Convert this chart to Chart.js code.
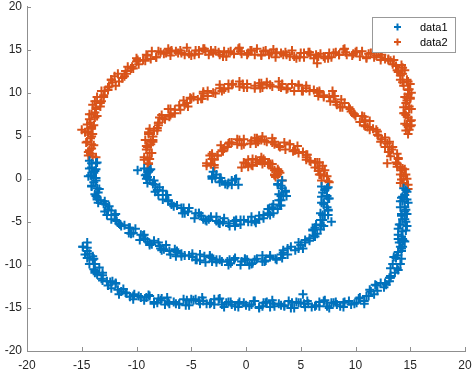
<!DOCTYPE html>
<html>
<head>
<meta charset="utf-8">
<script src="https://cdn.jsdelivr.net/npm/chart.js@4/dist/chart.umd.min.js"></script>
<style>
  html, body { margin: 0; padding: 0; background: #fff; }
  #wrap { width: 474px; height: 373px; }
</style>
</head>
<body>
<div id="wrap"><canvas id="grafico" width="474" height="373"></canvas></div>
<script>
/* data */
var seriesNames = ['data1', 'data2'];
var xTicks = [-20, -15, -10, -5, 0, 5, 10, 15, 20];
var yTicks = [-20, -15, -10, -5, 0, 5, 10, 15, 20];

// data1 (blue), first pass
var data1a = [
  [3.3,-0.2],[2.9,-0.7],[3.2,-0.8],[3.6,-1.5],[3.7,-2.0],[3.0,-1.8],[3.1,-3.1],[3.2,-2.5],
  [2.4,-3.3],[2.9,-3.5],[2.2,-4.2],[2.0,-3.5],[1.6,-4.2],[1.2,-4.7],[0.5,-4.4],[0.9,-5.1],
  [0.2,-5.0],[-0.5,-4.8],[-1.0,-5.5],[-0.9,-4.9],[-2.1,-5.0],[-1.6,-5.2],[-2.5,-5.1],[-2.7,-4.4],
  [-3.2,-4.4],[-3.6,-4.9],[-4.3,-4.0],[-3.9,-4.7],[-4.6,-4.0],[-5.3,-3.8],[-5.8,-4.0],[-5.7,-3.4],
  [-6.8,-2.9],[-6.3,-3.1],[-7.1,-2.6],[-7.3,-1.9],[-7.6,-1.4],[-8.0,-1.9],[-8.5,-0.6],[-8.1,-1.3],
  [-8.4,-0.2],[-9.1,0.0],[-9.0,0.2],[-8.9,0.8],[-9.3,1.2],[-8.8,1.0],[-9.9,1.0],
  [-0.7,-0.7],[-0.9,0.0],[-1.3,-0.2],[-1.7,-0.7],[-2.3,0.1],[-1.9,-0.6],[-2.4,0.1],[-3.1,0.3],
  [-3.1,0.2],[-3.0,0.8],
  [6.9,-0.9],[7.4,-1.1],[7.4,-2.0],[7.2,-1.3],[7.5,-2.3],[7.1,-2.8],[7.1,-3.0],[7.5,-3.7],
  [7.5,-4.2],[6.8,-4.0],[6.9,-5.4],[7.0,-4.8],[7.8,-5.0],[6.3,-5.7],[6.8,-5.9],[6.3,-6.7],[6.1,-6.0],
  [5.8,-6.9],[5.4,-7.4],[4.8,-7.4],[5.2,-8.1],[4.5,-8.3],[3.8,-8.1],[3.3,-9.2],[3.4,-8.6],
  [2.2,-9.1],[2.7,-9.3],[1.7,-9.6],[1.5,-8.9],[1.0,-9.3],[0.6,-9.8],[-0.1,-9.3],[0.3,-10.0],
  [-0.4,-9.6],[-1.1,-9.4],[-1.6,-10.0],[-1.5,-9.4],[-2.7,-9.4],[-2.2,-9.6],[-3.1,-9.6],[-3.3,-8.9],
  [-3.8,-9.0],[-4.2,-9.5],[-4.9,-8.7],[-4.5,-9.4],[-5.2,-8.9],[-5.9,-8.7],[-6.4,-9.0],[-6.3,-8.4],
  [-7.5,-8.2],[-7.0,-8.4],[-7.8,-8.1],[-8.0,-7.4],[-8.4,-7.2],[-8.8,-7.7],[-9.4,-6.6],[-9.0,-7.3],
  [-9.6,-6.5],[-10.3,-6.3],[-10.7,-6.3],[-10.6,-5.7],[-11.6,-5.2],[-11.1,-5.4],[-11.8,-4.9],[-12.0,-4.2],
  [-12.3,-3.7],[-12.7,-4.2],[-13.0,-2.9],[-12.6,-3.6],[-12.9,-2.6],[-13.6,-2.4],[-13.6,-2.2],[-13.5,-1.6],
  [-14.1,-0.9],[-13.6,-1.1],[-13.9,-0.4],[-14.1,0.3],[-13.8,0.9],[-14.2,0.4],[-14.1,1.8],[-13.7,1.1],
  [-13.6,1.9],[-14.3,2.1],
  [14.4,-1.1],[14.5,-1.9],[14.6,-1.3],[14.2,-2.2],[14.7,-2.4],[14.5,-3.3],[14.3,-2.6],[14.6,-3.6],[14.2,-4.1],
  [14.2,-4.3],[14.6,-5.0],[14.7,-5.5],[14.0,-5.3],[14.2,-6.7],[14.3,-6.1],[13.9,-7.0],[14.4,-7.2],
  [14.2,-8.1],[14.0,-7.4],[14.2,-8.4],[13.8,-8.9],[13.7,-9.2],[14.1,-9.9],[13.9,-10.6],[13.2,-10.4],
  [13.1,-11.9],[13.2,-11.3],[12.3,-12.1],[12.8,-12.3],[12.0,-13.0],[11.8,-12.3],[11.4,-13.1],[11.0,-13.6],
  [10.4,-13.8],[10.8,-14.5],[10.1,-14.4],[9.4,-14.2],[8.9,-14.9],[9.0,-14.3],[7.8,-14.4],[8.3,-14.6],
  [7.4,-14.8],[7.2,-14.1],[6.7,-14.3],[6.3,-14.8],[5.6,-14.2],[6.0,-14.9],[5.3,-14.5],[4.6,-14.3],
  [5.2,-13.4],[4.1,-15.0],[4.2,-14.4],[3.0,-14.5],[3.5,-14.7],[2.6,-14.8],[2.4,-14.1],[1.9,-14.3],[1.5,-14.8],
  [0.8,-14.2],[1.2,-14.9],[0.5,-14.6],[-0.2,-14.4],[-0.7,-14.9],[-0.6,-14.3],[-1.8,-14.4],[-1.3,-14.6],
  [-2.2,-14.6],[-2.4,-13.9],[-2.9,-14.0],[-3.3,-14.5],[-4.0,-13.8],[-3.6,-14.5],[-4.3,-14.2],[-5.0,-14.0],
  [-5.5,-14.7],[-5.4,-14.1],[-6.6,-14.3],[-6.1,-14.5],[-7.0,-14.5],[-7.2,-13.8],[-7.7,-13.9],[-8.1,-14.4],
  [-8.8,-13.6],[-8.4,-14.3],[-9.1,-13.8],[-9.8,-13.6],[-10.3,-14.0],[-10.2,-13.4],[-11.4,-13.1],[-10.9,-13.3],
  [-11.7,-12.9],[-11.9,-12.2],[-12.2,-11.9],[-12.6,-12.4],[-13.1,-11.2],[-12.7,-11.9],[-13.1,-10.9],[-13.8,-10.7],
  [-13.9,-10.5],[-13.8,-9.9],[-14.5,-9.2],[-14.0,-9.4],[-14.3,-8.7],[-14.5,-8.0],[-14.5,-7.4],[-14.9,-7.9]
];

// data1 (blue), points between the first ones
var data1b = [
  [3.3,-1.1],[2.9,-0.6],[3.6,-1.4],[3.2,-2.0],[3.0,-2.5],[3.4,-2.0],[3.2,-3.1],[2.5,-3.0],
  [2.5,-4.0],[2.1,-3.5],[2.0,-4.0],[1.6,-4.6],[0.8,-4.9],[1.2,-4.3],[0.5,-5.0],[-0.2,-4.8],
  [-0.5,-5.3],[-0.9,-4.8],[-1.1,-4.9],[-1.5,-5.5],[-2.4,-5.2],[-2.0,-4.6],[-2.7,-4.9],[-3.4,-4.7],
  [-3.7,-4.8],[-4.1,-4.3],[-4.3,-4.0],[-4.7,-4.6],[-5.6,-4.0],[-5.2,-3.4],[-5.9,-3.4],[-6.6,-3.2],
  [-6.8,-3.0],[-7.1,-2.5],[-7.2,-1.9],[-7.6,-2.4],[-8.3,-1.5],[-7.9,-1.0],[-8.3,-0.7],[-9.0,-0.5],
  [-8.8,-0.1],[-9.2,0.4],[-8.7,1.1],[-9.1,0.5],
  [-1.3,-0.7],[-1.0,-0.1],[-1.6,-0.5],[-2.2,-0.3],[-2.4,-0.4],[-2.8,0.1],[-2.7,0.5],[-3.1,0.0],
  [7.0,-1.6],[7.5,-1.0],[7.6,-2.3],[6.9,-2.1],[7.4,-3.3],[6.9,-2.8],[7.5,-3.6],[7.0,-4.2],
  [6.8,-4.8],[7.2,-4.2],[7.1,-5.5],[6.4,-5.3],[6.5,-6.4],[6.1,-5.9],[6.2,-6.6],[5.8,-7.2],
  [5.0,-7.7],[5.4,-7.1],[4.8,-8.1],[4.1,-7.9],[3.8,-8.8],[3.4,-8.3],[3.2,-8.8],[2.8,-9.4],
  [1.8,-9.5],[2.2,-8.9],[1.5,-9.6],[0.8,-9.4],[0.5,-9.9],[0.1,-9.4],[-0.1,-9.4],[-0.5,-10.0],
  [-1.4,-9.8],[-1.0,-9.2],[-1.7,-9.6],[-2.4,-9.4],[-2.7,-9.7],[-3.1,-9.2],[-3.3,-9.1],[-3.7,-9.7],
  [-4.6,-9.4],[-4.2,-8.8],[-4.9,-9.1],[-5.6,-8.9],[-5.9,-9.0],[-6.3,-8.5],[-6.5,-8.2],[-6.9,-8.8],
  [-7.7,-8.3],[-7.3,-7.7],[-7.9,-7.8],[-8.6,-7.6],[-8.8,-7.5],[-9.2,-7.0],[-9.3,-6.5],[-9.7,-7.1],
  [-10.5,-6.4],[-10.1,-5.8],[-10.7,-5.7],[-11.4,-5.5],[-11.5,-5.3],[-11.9,-4.8],[-11.9,-4.1],[-12.3,-4.7],
  [-12.9,-3.8],[-12.5,-3.2],[-12.8,-3.0],[-13.5,-2.8],[-13.3,-2.5],[-13.7,-2.0],[-13.4,-1.2],[-13.8,-1.8],
  [-14.1,-0.8],[-13.7,-0.2],[-13.7,0.1],[-14.4,0.3],[-13.9,0.7],[-14.3,1.2],[-13.7,1.8],[-14.1,1.3],
  [14.3,-2.1],[14.7,-1.5],[14.8,-2.8],[14.1,-2.6],[14.5,-3.8],[14.1,-3.3],[14.7,-4.1],[14.3,-4.7],
  [14.1,-5.3],[14.5,-4.7],[14.6,-6.0],[13.9,-5.8],[14.3,-7.0],[13.9,-6.5],[14.5,-7.3],[14.1,-7.9],
  [13.9,-8.5],[14.3,-7.9],[14.2,-9.3],[13.5,-9.1],[13.8,-10.4],[13.4,-9.9],[13.6,-10.9],[13.2,-11.5],
  [12.7,-12.1],[13.1,-11.5],[12.6,-12.6],[11.9,-12.4],[11.7,-13.4],[11.3,-12.9],[11.2,-13.6],[10.8,-14.2],
  [9.9,-14.5],[10.3,-13.9],[9.6,-14.6],[8.9,-14.4],[8.6,-14.8],[8.2,-14.3],[8.0,-14.4],[7.6,-15.0],
  [6.7,-14.8],[7.1,-14.2],[6.4,-14.7],[5.7,-14.5],[5.4,-14.9],[5.0,-14.4],[4.8,-14.4],[4.4,-15.0],
  [3.5,-14.8],[3.9,-14.2],[3.2,-14.7],[2.5,-14.5],[2.2,-14.9],[1.8,-14.4],[1.6,-14.4],[1.2,-15.0],
  [0.3,-14.8],[0.7,-14.2],[0.0,-14.7],[-0.7,-14.5],[-1.0,-14.8],[-1.4,-14.3],[-1.6,-14.3],[-2.0,-14.9],
  [-2.9,-14.6],[-2.5,-14.0],[-3.2,-14.4],[-3.9,-14.2],[-4.2,-14.5],[-4.6,-14.0],[-4.8,-14.1],[-5.2,-14.7],
  [-6.1,-14.6],[-5.7,-14.0],[-6.4,-14.5],[-7.1,-14.3],[-7.4,-14.6],[-7.8,-14.1],[-8.0,-13.9],[-8.4,-14.5],
  [-9.3,-14.1],[-8.9,-13.5],[-9.6,-13.8],[-10.3,-13.6],[-10.6,-13.7],[-11.0,-13.2],[-11.2,-12.8],[-11.6,-13.4],
  [-12.3,-12.7],[-11.9,-12.1],[-12.4,-12.0],[-13.1,-11.8],[-13.2,-11.6],[-13.6,-11.1],[-13.4,-10.3],[-13.8,-10.9],
  [-14.3,-9.9],[-13.9,-9.3],[-14.0,-9.0],[-14.7,-8.8],[-14.5,-8.4],[-14.9,-7.9]
];

// data2 (orange), first pass
var data2a = [
  [0.0,1.8],[-0.4,1.3],[0.2,2.2],[0.6,1.5],[1.3,2.1],[0.6,2.3],[1.5,1.7],[1.6,2.3],
  [1.7,1.9],[2.2,1.7],[2.6,1.0],[2.4,1.7],[3.0,0.9],[2.6,0.4],[2.9,0.5],[3.3,-0.2],
  [-2.9,1.3],[-3.6,1.5],[-3.2,1.7],[-3.1,2.3],[-3.1,2.9],[-2.6,2.7],[-2.1,3.2],[-2.3,3.9],
  [-1.3,4.2],[-1.7,3.7],[-0.8,4.6],[-0.4,3.9],[0.5,4.4],[-0.2,4.6],[0.9,4.1],[1.0,4.7],
  [1.4,4.5],[1.9,4.3],[2.6,4.0],[2.4,4.7],[3.5,4.2],[3.1,3.7],[4.0,4.0],[4.4,3.3],
  [5.2,3.1],[4.5,3.3],[5.5,2.2],[5.6,2.8],[5.8,2.1],[6.3,1.9],[6.7,1.2],[6.5,1.9],
  [7.2,1.0],[6.8,0.5],[7.1,0.4],[7.5,-0.3],[7.6,-0.4],[6.9,-0.2],
  [-9.0,1.2],[-8.9,1.8],[-9.3,2.5],[-8.8,2.3],[-8.8,3.0],[-9.0,3.7],[-8.7,4.3],[-9.1,3.8],
  [-8.9,5.2],[-8.5,4.5],[-8.1,5.6],[-8.8,5.8],[-8.1,5.9],[-8.0,6.5],[-7.9,7.1],[-7.4,6.9],
  [-6.9,7.4],[-7.1,8.1],[-6.1,8.5],[-6.5,8.0],[-5.7,9.1],[-5.3,8.4],[-4.4,9.2],[-5.1,9.4],
  [-4.0,9.3],[-3.9,9.9],[-3.5,10.2],[-3.0,10.0],[-2.2,10.2],[-2.4,10.9],[-1.2,11.0],[-1.6,10.5],
  [-0.6,11.3],[-0.2,10.6],[0.8,10.8],[0.1,11.0],[1.3,10.5],[1.4,11.1],[1.9,10.9],[2.4,10.7],
  [3.2,10.6],[3.0,11.3],[4.2,11.0],[3.8,10.5],[4.8,10.9],[5.2,10.2],[6.2,10.3],[5.5,10.5],
  [6.6,9.6],[6.7,10.2],[7.1,9.7],[7.6,9.5],[8.2,8.9],[8.0,9.6],[7.9,10.2],[9.0,8.8],[8.6,8.3],
  [9.4,8.3],[9.8,7.6],[10.6,7.3],[9.9,7.5],[10.8,6.2],[10.9,6.8],[11.1,6.0],[11.6,5.8],
  [12.1,5.0],[11.9,5.7],[12.7,4.8],[12.3,4.3],[12.9,4.1],[13.3,3.4],[13.8,2.9],[13.1,3.1],
  [13.8,1.7],[13.9,2.3],[12.9,1.8],[13.8,1.4],[14.3,1.2],[14.4,0.3],[14.2,1.0],[14.7,0.0],[14.3,-0.5],
  [14.4,-0.5],[14.8,-1.2],
  [-13.7,2.5],[-14.4,2.7],[-14.2,2.9],[-14.1,3.5],[-14.6,4.2],[-14.1,4.0],[-14.2,4.7],[-14.4,5.4],
  [-14.1,6.0],[-14.5,5.5],[-15.0,5.7],[-14.3,6.9],[-13.9,6.2],[-13.6,7.3],[-14.3,7.5],[-13.8,7.7],[-13.7,8.3],
  [-13.8,9.0],[-13.3,8.8],[-13.0,9.5],[-13.2,10.2],[-12.5,10.7],[-12.9,10.2],[-12.3,11.5],[-11.9,10.8],
  [-11.3,11.7],[-12.0,11.9],[-11.1,11.9],[-11.0,12.5],[-10.8,13.0],[-10.3,12.8],[-9.8,13.3],[-10.0,14.0],
  [-9.0,14.3],[-9.4,13.8],[-8.6,14.8],[-8.2,14.1],[-7.3,14.6],[-8.0,14.8],[-6.9,14.3],[-6.8,14.9],
  [-6.4,14.8],[-5.9,14.6],[-5.2,14.5],[-5.4,15.2],[-4.3,14.9],[-4.7,14.4],[-3.8,15.1],[-3.4,14.4],
  [-2.5,14.7],[-3.2,14.9],[-2.1,14.2],[-2.0,14.8],[-1.6,14.7],[-1.1,14.5],[-0.4,14.5],[-0.6,15.2],
  [0.5,14.9],[0.1,14.4],[1.0,15.1],[1.4,14.4],[2.3,14.6],[1.6,14.8],[2.7,14.1],[2.8,14.7],
  [3.2,14.6],[3.7,14.4],[4.4,14.2],[4.2,14.9],[5.3,14.6],[4.9,14.1],[5.8,14.7],[6.2,14.0],
  [7.1,14.2],[6.4,14.4],[6.5,13.4],[7.5,14.0],[7.6,14.6],[8.0,14.6],[8.5,14.4],[9.2,14.4],[9.0,15.1],
  [10.1,14.8],[9.7,14.3],[10.6,14.8],[11.0,14.1],[11.9,14.3],[11.2,14.5],[12.3,13.8],[12.4,14.4],
  [12.7,13.9],[13.2,13.7],[13.7,13.1],[13.5,13.8],[14.3,12.9],[13.9,12.4],[14.3,12.2],[14.7,11.5],
  [15.0,11.0],[14.3,11.2],[14.8,9.8],[14.9,10.4],[14.5,9.5],[15.0,9.3],[14.9,8.4],[14.7,9.1],
  [14.9,8.1],[14.5,7.6],[14.6,7.4],[15.0,6.7],[15.1,6.2],[14.5,6.4],[14.8,5.2],[14.9,5.7]
];

// data2 (orange), points between the first ones
var data2b = [
  [0.2,1.4],[-0.2,1.9],[0.9,2.2],[0.5,1.6],[1.0,1.9],[1.4,2.5],[2.1,1.9],[1.4,2.1],
  [2.4,1.2],[2.0,1.7],[2.9,1.1],[2.6,0.5],[2.7,0.2],[3.1,0.7],
  [-2.9,1.6],[-3.6,1.8],[-2.9,2.2],[-3.3,2.7],[-2.2,3.3],[-2.6,2.7],[-2.0,3.5],[-1.6,4.1],
  [-0.8,4.0],[-1.5,4.2],[-0.2,4.0],[-0.6,4.5],[0.8,4.7],[0.4,4.1],[1.1,4.3],[1.5,4.9],
  [2.4,4.2],[1.7,4.4],[3.0,3.8],[2.6,4.3],[4.0,4.0],[3.6,3.4],[4.3,3.2],[4.7,3.8],
  [5.5,2.8],[4.8,3.0],[5.9,2.0],[5.5,2.5],[6.7,1.9],[6.3,1.3],[6.6,0.9],[7.0,1.5],
  [7.4,0.3],[6.7,0.5],
  [-8.9,1.7],[-9.3,2.2],[-8.6,3.0],[-9.0,2.4],[-9.1,3.4],[-8.7,4.0],[-8.5,4.3],[-9.2,4.5],
  [-8.5,4.9],[-8.9,5.4],[-8.0,6.2],[-8.4,5.6],[-8.0,6.5],[-7.6,7.0],[-7.0,7.2],[-7.7,7.4],
  [-6.5,7.6],[-6.9,8.1],[-5.6,8.6],[-6.0,8.0],[-5.4,8.8],[-5.0,9.3],[-4.1,9.3],[-4.8,9.5],
  [-3.5,9.6],[-3.9,10.1],[-2.4,10.5],[-2.8,9.9],[-2.0,10.4],[-1.6,11.0],[-0.6,10.7],[-1.3,10.9],
  [0.1,10.6],[-0.3,11.0],[1.2,11.1],[0.8,10.5],[1.5,10.6],[1.9,11.2],[3.0,10.7],[2.2,10.9],
  [3.7,10.4],[3.3,11.0],[4.8,10.8],[4.4,10.2],[5.1,10.2],[5.5,10.8],[6.5,10.1],[5.8,10.2],
  [7.1,9.5],[6.7,10.0],[8.1,9.6],[7.7,9.0],[8.3,8.6],[8.7,9.2],[9.5,8.1],[8.8,8.3],
  [10.0,7.3],[9.6,7.8],[10.8,7.2],[10.4,6.6],[10.9,6.1],[11.3,6.7],[12.0,5.5],[11.3,5.7],
  [12.4,4.6],[12.0,5.1],[13.1,4.3],[12.7,3.7],[13.0,3.1],[13.4,3.7],[13.9,2.4],[13.2,2.6],
  [14.1,1.4],[13.7,1.9],[14.5,1.1],[14.1,0.5],[14.2,-0.1],[14.6,0.5],[14.8,-0.7],[14.1,-0.5],
  [-14.0,2.6],[-14.4,3.1],[-13.9,3.9],[-14.3,3.3],[-14.5,4.3],[-14.1,4.9],[-14.0,5.2],[-14.7,5.4],
  [-14.1,5.8],[-14.5,6.3],[-13.8,7.1],[-14.2,6.5],[-14.1,7.5],[-13.7,8.1],[-13.3,8.4],[-14.0,8.6],
  [-13.2,9.0],[-13.6,9.5],[-12.6,10.3],[-13.0,9.7],[-12.6,10.6],[-12.2,11.2],[-11.6,11.3],[-12.3,11.5],
  [-11.3,11.7],[-11.7,12.2],[-10.5,12.8],[-10.9,12.2],[-10.4,13.0],[-10.0,13.6],[-9.2,13.7],[-9.9,13.8],
  [-8.7,13.9],[-9.1,14.4],[-7.8,14.7],[-8.2,14.1],[-7.5,14.5],[-7.1,15.1],[-6.2,14.6],[-6.9,14.8],
  [-5.6,14.4],[-6.0,14.9],[-4.6,14.9],[-5.0,14.3],[-4.3,14.5],[-3.9,15.1],[-3.0,14.6],[-3.7,14.8],
  [-2.4,14.4],[-2.8,14.9],[-1.4,14.8],[-1.8,14.2],[-1.1,14.5],[-0.7,15.1],[0.2,14.6],[-0.5,14.8],
  [0.8,14.4],[0.4,14.9],[1.8,14.9],[1.4,14.3],[2.1,14.4],[2.5,15.0],[3.4,14.4],[2.7,14.6],
  [4.0,14.2],[3.6,14.7],[5.0,14.6],[4.6,14.0],[5.3,14.1],[5.7,14.7],[6.6,14.2],[5.9,14.4],
  [7.2,14.0],[6.8,14.5],[8.2,14.7],[7.8,14.1],[8.5,14.4],[8.9,15.0],[9.8,14.5],[9.1,14.7],
  [10.4,14.2],[10.0,14.7],[11.4,14.6],[11.0,14.0],[11.7,14.1],[12.1,14.7],[13.0,13.9],[12.3,14.1],
  [13.4,13.3],[13.0,13.8],[14.2,13.2],[13.8,12.6],[14.1,12.0],[14.5,12.6],[14.8,11.3],[14.1,11.5],
  [14.8,10.3],[14.4,10.8],[15.1,10.0],[14.7,9.4],[14.6,8.8],[15.0,9.4],[15.1,8.1],[14.4,8.3],
  [14.8,7.1],[14.4,7.6],[15.1,6.8],[14.7,6.2],[14.6,5.6],[15.0,6.1]
];

var data1 = data1a.concat(data1b);
var data2 = data2a.concat(data2b);

var seriesColors = ['#0072BD', '#D95319'];
var font = "'Liberation Sans', Arial, sans-serif";

function toPoints(arr) {
  return arr.map(function (p) { return { x: p[0], y: p[1] }; });
}

/* inward tick marks + legend box, like the matlab figure */
var axesExtras = {
  id: 'axesExtras',
  afterDraw: function (chart) {
    var ctx = chart.ctx;
    var a = chart.chartArea;
    var sx = chart.scales.x, sy = chart.scales.y;
    ctx.save();
    ctx.strokeStyle = '#8f8f8f';
    ctx.lineWidth = 1;
    ctx.beginPath();
    xTicks.forEach(function (v) {
      var px = Math.round(sx.getPixelForValue(v)) + 0.5;
      ctx.moveTo(px, a.bottom);
      ctx.lineTo(px, a.bottom - 4);
    });
    yTicks.forEach(function (v) {
      var py = Math.round(sy.getPixelForValue(v)) + 0.5;
      ctx.moveTo(a.left, py);
      ctx.lineTo(a.left + 4, py);
    });
    ctx.stroke();

    // legend
    var lx = 372.5, ly = 17.5, lw = 83, lh = 35;
    ctx.fillStyle = '#fff';
    ctx.fillRect(lx, ly, lw, lh);
    ctx.strokeStyle = '#999';
    ctx.strokeRect(lx, ly, lw, lh);
    ctx.font = '11px ' + font;
    ctx.textBaseline = 'middle';
    ctx.textAlign = 'left';
    for (var i = 0; i < seriesNames.length; i++) {
      var cy = 27 + i * 15;
      ctx.strokeStyle = seriesColors[i];
      ctx.lineWidth = 2;
      ctx.beginPath();
      ctx.moveTo(394, cy); ctx.lineTo(401, cy);
      ctx.moveTo(397.5, cy - 3.5); ctx.lineTo(397.5, cy + 3.5);
      ctx.stroke();
      ctx.fillStyle = '#000';
      ctx.fillText(seriesNames[i], 420, cy + 1);
    }
    ctx.restore();
  }
};

var ctx = document.getElementById('grafico');
var chart = new Chart(ctx, {
  type: 'scatter',
  data: {
    datasets: [data1, data2].map(function (d, i) {
      return {
        label: seriesNames[i],
        data: toPoints(d),
        pointStyle: 'cross',
        pointRadius: 4.5,
        pointBorderWidth: 2,
        borderColor: seriesColors[i],
        backgroundColor: seriesColors[i]
      };
    })
  },
  options: {
    responsive: false,
    animation: false,
    layout: { padding: { left: 0, right: 9, top: 6, bottom: 0 } },
    plugins: { legend: { display: false }, tooltip: { enabled: false } },
    scales: {
      x: {
        type: 'linear', min: -20, max: 20,
        afterBuildTicks: function (s) { s.ticks = xTicks.map(function (v) { return { value: v }; }); },
        afterFit: function (s) { s.height = 22; s.paddingLeft = 0; s.paddingRight = 0; },
        ticks: { color: '#262626', font: { family: font, size: 12 }, padding: 7, maxRotation: 0, autoSkip: false },
        grid: { drawOnChartArea: false, drawTicks: false },
        border: { display: true, color: '#8f8f8f', width: 1 }
      },
      y: {
        type: 'linear', min: -20, max: 20,
        afterBuildTicks: function (s) { s.ticks = yTicks.map(function (v) { return { value: v }; }); },
        afterFit: function (s) { s.width = 27; s.paddingTop = 0; s.paddingBottom = 0; },
        ticks: { color: '#262626', font: { family: font, size: 12 }, padding: 5, autoSkip: false },
        grid: { drawOnChartArea: false, drawTicks: false },
        border: { display: true, color: '#8f8f8f', width: 1 }
      }
    }
  },
  plugins: [axesExtras]
});
</script>
</body>
</html>
